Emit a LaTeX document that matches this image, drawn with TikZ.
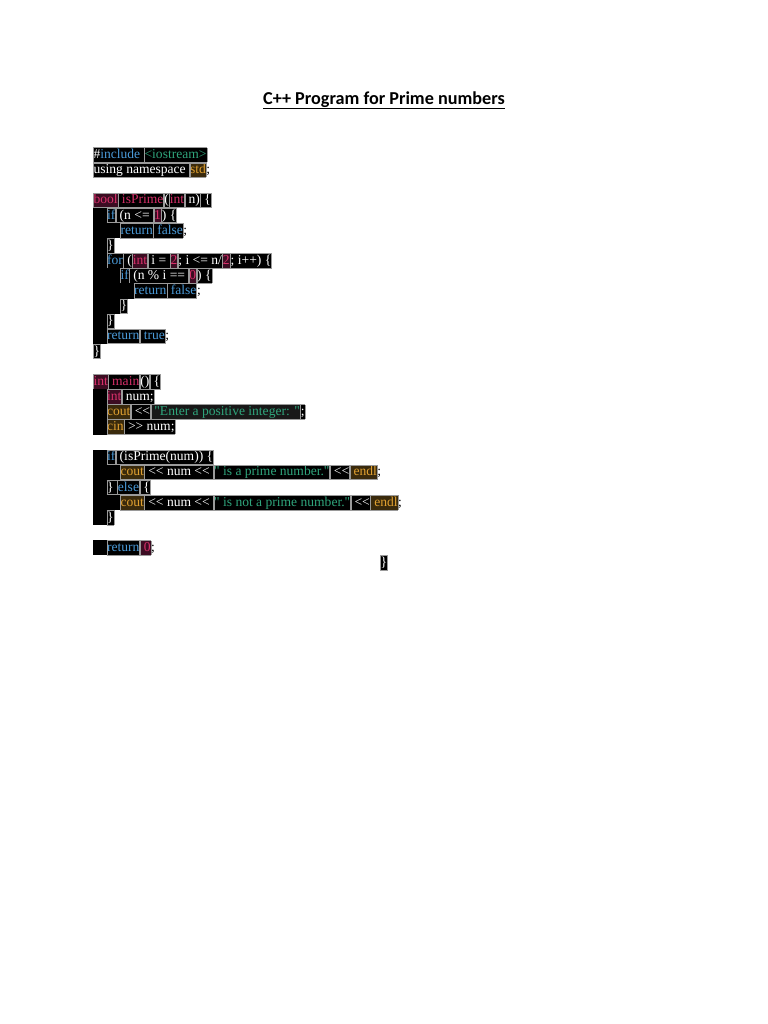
\documentclass[tikz,border=0pt]{standalone}
\usepackage{fontspec}
\setmainfont{Liberation Serif}[Ligatures=TeXOff]
\newfontfamily\titlefont{Carlito}
\definecolor{kw}{HTML}{4A9AD8}
\definecolor{pk}{HTML}{D8306A}
\definecolor{pkbg}{HTML}{3C0C22}
\definecolor{gr}{HTML}{2FA57C}
\definecolor{strbg}{HTML}{181818}
\definecolor{og}{HTML}{E0A030}
\definecolor{ogbg}{HTML}{3A2A0C}
\definecolor{bd}{HTML}{9A9A9A}
\newlength\indw
\setlength\indw{10.8pt}
\newcommand\tk[3]{{\fboxsep=0pt\fboxrule=0.4pt\fcolorbox{bd}{#2}{\color{#1}\rule[-2.75pt]{0pt}{11.25pt}#3}}}
\newcommand\ind[1]{{\fboxsep=0pt\colorbox{black}{\rule[-3.15pt]{0pt}{12.05pt}\hspace{#1\indw}}}}
\begin{document}
\begin{tikzpicture}[x=0.796875pt,y=-0.796875pt,
  cl/.style={anchor=base west,inner sep=0pt,outer sep=0pt,font=\fontsize{10.8}{12}\selectfont},
  ttl/.style={anchor=base,inner sep=0pt,outer sep=0pt,font=\titlefont\bfseries\fontsize{14.5}{17}\selectfont}]
\useasboundingbox (0,0) rectangle (768,1024);
\fill[white] (0,0) rectangle (768,1024);
% title
\node[ttl] (title) at (384,105) {C++ Program for Prime numbers};
\draw[line width=0.8pt] ([yshift=-2.4pt]title.base west) -- ([yshift=-2.4pt]title.base east);
% code
\node[cl] (l0) at (93,158.6) {\tk{white}{black}{\#\color{kw}include\ }\tk{gr}{black}{<iostream>}};
\node[cl] (l1) at (93,173.7) {\tk{white}{black}{using namespace\ }\tk{og}{ogbg}{std};};
\node[cl] (l3) at (93,203.9) {\tk{pk}{pkbg}{bool}\tk{pk}{black}{\ isPrime}\tk{white}{black}{(}\tk{pk}{black}{int}\tk{white}{black}{\ n)}\tk{white}{black}{\ \{}};
\node[cl] (l4) at (93,219.0) {\ind{1}\tk{kw}{black}{if}\tk{white}{black}{\ (n <=\ }\tk{pk}{pkbg}{1}\tk{white}{black}{) \{}};
\node[cl] (l5) at (93,234.2) {\ind{2}\tk{kw}{black}{return}\tk{kw}{black}{\ false};};
\node[cl] (l6) at (93,249.3) {\ind{1}\tk{white}{black}{\}}};
\node[cl] (l7) at (93,264.4) {\ind{1}\tk{kw}{black}{for}\tk{white}{black}{\ (}\tk{pk}{pkbg}{int}\tk{white}{black}{\ i =\ }\tk{pk}{pkbg}{2}\tk{white}{black}{; i <= n/}\tk{pk}{pkbg}{2}\tk{white}{black}{; i++) \{}};
\node[cl] (l8) at (93,279.5) {\ind{2}\tk{kw}{black}{if}\tk{white}{black}{\ (n \% i ==\ }\tk{pk}{pkbg}{0}\tk{white}{black}{) \{}};
\node[cl] (l9) at (93,294.6) {\ind{3}\tk{kw}{black}{return}\tk{kw}{black}{\ false};};
\node[cl] (l10) at (93,309.7) {\ind{2}\tk{white}{black}{\}}};
\node[cl] (l11) at (93,324.8) {\ind{1}\tk{white}{black}{\}}};
\node[cl] (l12) at (93,339.9) {\ind{1}\tk{kw}{black}{return}\tk{kw}{black}{\ true};};
\node[cl] (l13) at (93,355.0) {\tk{white}{black}{\}}};
\node[cl] (l15) at (93,385.3) {\tk{pk}{pkbg}{int}\tk{pk}{black}{\ main}\tk{white}{black}{()}\tk{white}{black}{\ \{}};
\node[cl] (l16) at (93,400.4) {\ind{1}\tk{pk}{pkbg}{int}\tk{white}{black}{\ num;}};
\node[cl] (l17) at (93,415.5) {\ind{1}\tk{og}{ogbg}{cout}\tk{white}{black}{\ <<}\tk{gr}{strbg}{\ "Enter a positive integer: "}\tk{white}{black}{;}};
\node[cl] (l18) at (93,430.6) {\ind{1}\tk{og}{ogbg}{cin}\tk{white}{black}{\ >> num;}};
\node[cl] (l20) at (93,460.8) {\ind{1}\tk{kw}{black}{if}\tk{white}{black}{\ (isPrime(num)) \{}};
\node[cl] (l21) at (93,475.9) {\ind{2}\tk{og}{ogbg}{cout}\tk{white}{black}{\ << num <<\ }\tk{gr}{black}{" is a prime number."}\tk{white}{black}{\ <<}\tk{og}{ogbg}{\ endl};};
\node[cl] (l22) at (93,491.0) {\ind{1}\tk{white}{black}{\}\ }\tk{kw}{black}{else}\tk{white}{black}{\ \{}};
\node[cl] (l23) at (93,506.1) {\ind{2}\tk{og}{ogbg}{cout}\tk{white}{black}{\ << num <<\ }\tk{gr}{black}{" is not a prime number."}\tk{white}{black}{\ <<}\tk{og}{ogbg}{\ endl};};
\node[cl] (l24) at (93,521.2) {\ind{1}\tk{white}{black}{\}}};
\node[cl] (l26) at (93,551.5) {\ind{1}\tk{kw}{black}{return}\tk{pk}{pkbg}{\ 0};};
\node[cl] (l27) at (380,566.6) {\tk{white}{black}{\}}};
\end{tikzpicture}
\end{document}
